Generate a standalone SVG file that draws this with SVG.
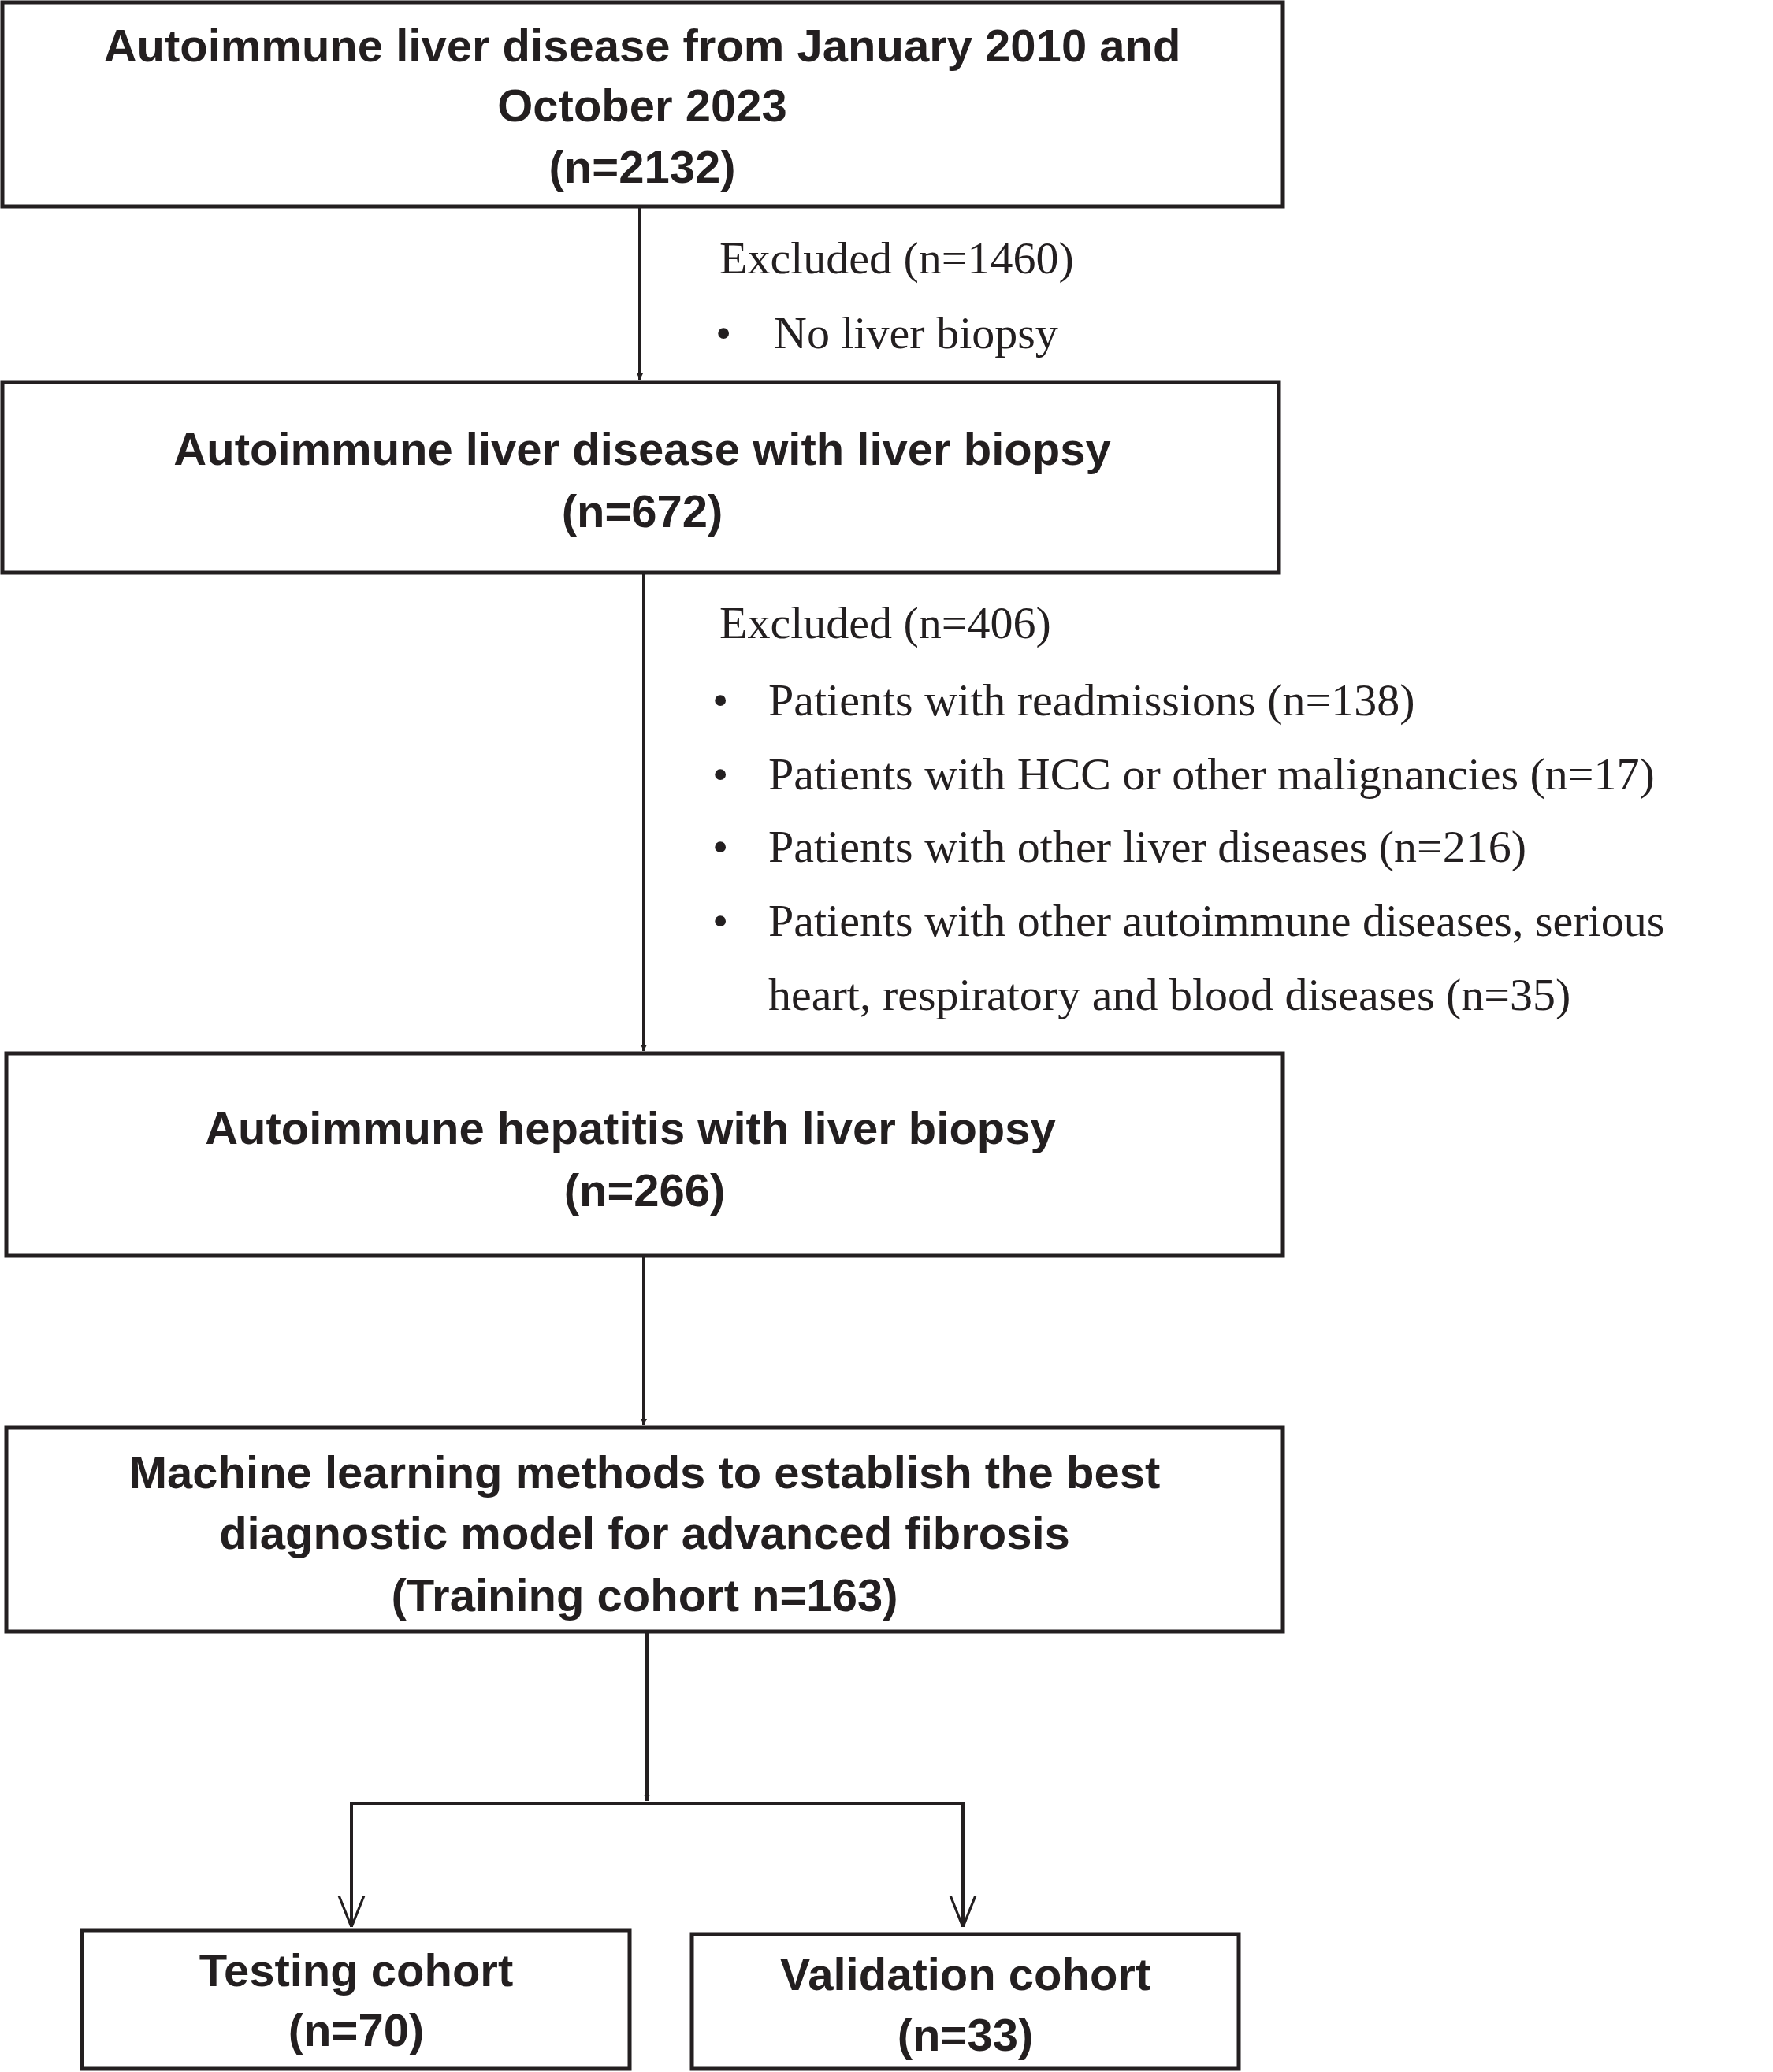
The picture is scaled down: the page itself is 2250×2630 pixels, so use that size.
<svg xmlns="http://www.w3.org/2000/svg" width="2250" height="2630" viewBox="0 0 2250 2630">
<style>
.box{fill:#fff;stroke:#231f20;stroke-width:5}
.b{font-family:"Liberation Sans",Arial,sans-serif;font-weight:bold;font-size:58px;fill:#231f20;text-anchor:middle;dominant-baseline:central}
.s{font-family:"Liberation Serif","Times New Roman",serif;font-size:58px;fill:#231f20;dominant-baseline:central}
.c{stroke:#231f20;stroke-width:4;fill:none}
</style>
<defs>
<marker id="a" viewBox="0 0 10 10" refX="10" refY="5" markerWidth="8" markerHeight="8" markerUnits="userSpaceOnUse" orient="auto"><path d="M0,0L10,5L0,10z" fill="#231f20"/></marker>
<marker id="o" viewBox="0 0 10 10" refX="10" refY="5" markerWidth="10" markerHeight="10" orient="auto"><path d="M0,1L10,5L0,9" fill="none" stroke="#231f20" stroke-width="0.8"/></marker>
</defs>
<g id="connectors">
<line class="c" x1="812" y1="262" x2="812" y2="482" marker-end="url(#a)"/>
<line class="c" x1="817" y1="727" x2="817" y2="1334" marker-end="url(#a)"/>
<line class="c" x1="817" y1="1594" x2="817" y2="1809" marker-end="url(#a)"/>
<line class="c" x1="821" y1="2071" x2="821" y2="2286" marker-end="url(#a)"/>
<polyline class="c" points="446,2446 446,2289 1222,2289 1222,2446" stroke-width="3"/>
<line class="c" x1="446" y1="2400" x2="446" y2="2446" marker-end="url(#o)" stroke-width="3"/>
<line class="c" x1="1222" y1="2400" x2="1222" y2="2446" marker-end="url(#o)" stroke-width="3"/>
</g>
<g id="n1"><rect class="box" x="3" y="3" width="1625" height="259"/>
<text class="b" x="815" y="57">Autoimmune liver disease from January 2010 and</text>
<text class="b" x="815" y="133">October 2023</text>
<text class="b" x="815" y="211">(n=2132)</text></g>
<g id="ex1"><text class="s" x="913" y="327">Excluded (n=1460)</text>
<text class="s" x="908" y="422">•</text><text class="s" x="982" y="422">No liver biopsy</text></g>
<g id="n2"><rect class="box" x="3" y="485" width="1620" height="242"/>
<text class="b" x="815" y="569">Autoimmune liver disease with liver biopsy</text>
<text class="b" x="815" y="648">(n=672)</text></g>
<g id="ex2"><text class="s" x="913" y="790">Excluded (n=406)</text>
<text class="s" x="904" y="888">•</text><text class="s" x="975" y="888">Patients with readmissions (n=138)</text>
<text class="s" x="904" y="982">•</text><text class="s" x="975" y="982">Patients with HCC or other malignancies (n=17)</text>
<text class="s" x="904" y="1074">•</text><text class="s" x="975" y="1074">Patients with other liver diseases (n=216)</text>
<text class="s" x="904" y="1168">•</text><text class="s" x="975" y="1168">Patients with other autoimmune diseases, serious</text>
<text class="s" x="975" y="1262">heart, respiratory and blood diseases (n=35)</text></g>
<g id="n3"><rect class="box" x="8" y="1337" width="1620" height="257"/>
<text class="b" x="800" y="1431">Autoimmune hepatitis with liver biopsy</text>
<text class="b" x="818" y="1510">(n=266)</text></g>
<g id="n4"><rect class="box" x="8" y="1812" width="1620" height="259"/>
<text class="b" x="818" y="1868">Machine learning methods to establish the best</text>
<text class="b" x="818" y="1945">diagnostic model for advanced fibrosis</text>
<text class="b" x="818" y="2024">(Training cohort n=163)</text></g>
<g id="n5"><rect class="box" x="104" y="2450" width="695" height="176"/>
<text class="b" x="452" y="2500">Testing cohort</text>
<text class="b" x="452" y="2576">(n=70)</text></g>
<g id="n6"><rect class="box" x="878" y="2455" width="694" height="171"/>
<text class="b" x="1225" y="2505">Validation cohort</text>
<text class="b" x="1225" y="2582">(n=33)</text></g>
</svg>
